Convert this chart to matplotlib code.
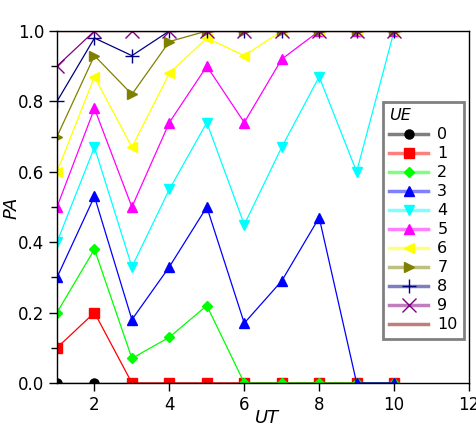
import matplotlib
matplotlib.use("Agg")
import matplotlib.pyplot as plt
from matplotlib.lines import Line2D
from matplotlib.ticker import MultipleLocator, FormatStrFormatter

ut = [1, 2, 3, 4, 5, 6, 7, 8, 9, 10]
ue_labels = ["0", "1", "2", "3", "4", "5", "6", "7", "8", "9", "10"]
pa = [
    [0, 0, 0, 0, 0, 0, 0, 0, 0, 0],
    [0.1, 0.2, 0, 0, 0, 0, 0, 0, 0, 0],
    [0.2, 0.38, 0.07, 0.13, 0.22, 0, 0, 0, 0, 0],
    [0.3, 0.53, 0.18, 0.33, 0.5, 0.17, 0.29, 0.47, 0, 0],
    [0.4, 0.67, 0.33, 0.55, 0.74, 0.45, 0.67, 0.87, 0.6, 1.0],
    [0.5, 0.78, 0.5, 0.74, 0.9, 0.74, 0.92, 1, 1, 1],
    [0.6, 0.87, 0.67, 0.88, 0.98, 0.93, 1, 1, 1, 1],
    [0.7, 0.93, 0.82, 0.97, 1, 1, 1, 1, 1, 1],
    [0.8, 0.98, 0.93, 1, 1, 1, 1, 1, 1, 1],
    [0.9, 1, 1, 1, 1, 1, 1, 1, 1, 1],
    [1, 1, 1, 1, 1, 1, 1, 1, 1, 1],
]

colors = ["#000000", "#ff0000", "#00ff00", "#0000ff", "#00ffff", "#ff00ff",
          "#ffff00", "#808000", "#000080", "#800080", "#800000"]
markers = ["o", "s", "D", "^", "v", "^", "<", ">", "+", "x", ""]
msizes = [6.5, 7.5, 5.5, 7.5, 7.5, 7.5, 7.5, 7.5, 10, 10, 0]

fig = plt.figure(figsize=(4.76, 4.33), dpi=100)
ax = fig.add_axes([57 / 476, 1 - 383 / 433, 412 / 476, 352 / 433])

handles = []
for i, lab in enumerate(ue_labels):
    ax.plot(ut, pa[i], color=colors[i], lw=0.9, marker=markers[i] or None,
            ms=msizes[i], mec=colors[i], mew=1.0)
    # legend lines look lighter and thicker than the plotted ones
    rgba = matplotlib.colors.to_rgba(colors[i], 0.5)
    handles.append(Line2D([], [], color=rgba, lw=2.5, marker=markers[i] or None,
                          ms=msizes[i], mfc=colors[i], mec=colors[i], mew=1.0))

ax.set_xlim(1, 12)
ax.set_ylim(0, 1)
ax.xaxis.set_major_locator(MultipleLocator(2))
ax.yaxis.set_major_locator(MultipleLocator(0.2))
ax.yaxis.set_minor_locator(MultipleLocator(0.1))
ax.yaxis.set_major_formatter(FormatStrFormatter("%.1f"))
ax.tick_params(direction="out", length=6, width=1, labelsize=12, pad=3,
               top=False, right=False)
ax.tick_params(which="minor", direction="out", length=4, width=1)
for s in ax.spines.values():
    s.set_linewidth(1)

ax.set_xlabel("UT", fontsize=13, style="italic")
ax.xaxis.set_label_coords((267 - 57) / 412, -(409 - 383) / 352)
ax.set_ylabel("PA", fontsize=13, style="italic")
ax.yaxis.set_label_coords(-(57 - 21) / 412, (383 - 208) / 352)

leg = ax.legend(handles, ue_labels, title="UE", loc="upper left",
                bbox_to_anchor=(326 / 412, (383 - 102) / 352), fontsize=11.5,
                title_fontsize=11.5, fancybox=False, framealpha=1,
                handlelength=2.4, handletextpad=0.6, labelspacing=0.25,
                borderpad=0.4, borderaxespad=0, alignment="left")
leg.get_title().set_style("italic")
leg.get_frame().set_edgecolor("#808080")
leg.get_frame().set_linewidth(2)

fig.savefig("out.png", dpi=100)
